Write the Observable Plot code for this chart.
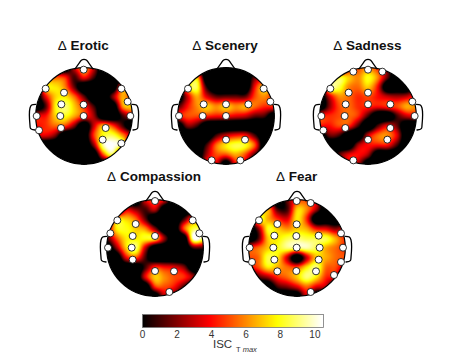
<!DOCTYPE html>
<html><head><meta charset="utf-8">
<script src="https://cdn.jsdelivr.net/npm/d3@7"></script>
<script src="https://cdn.jsdelivr.net/npm/@observablehq/plot@0.6"></script>
<style>
html,body{margin:0;padding:0;background:#fff}
#fig{position:relative;width:474px;height:355px;overflow:hidden;font-family:"Liberation Sans",Arial,sans-serif}
#fig>div{position:absolute}
.t{font-size:13.5px;font-weight:bold;line-height:16px;color:#111;text-align:center;transform:translateX(-50%);white-space:nowrap}
.t span{font-weight:normal}
.isc{font-size:11.5px;line-height:12px;color:#333;white-space:nowrap}
.isc sub{font-size:7.5px;line-height:0;vertical-align:-4px;margin-left:2px}
</style></head><body><div id="fig"></div>
<script>
// heat value grids: 11 rows (top to bottom), 11 columns (left to right) across the head
const eroticGrid=[
[0,0,0,0,3,6.5,3,0,0,0,0],
[0,4,5,4.5,1,4,1,0,0,0,0],
[0,6.5,7.5,6,1.5,0,0,0,0,5.5,4],
[0,3.5,7,7.5,5.5,1.5,0,0,2,6.5,4],
[0,1,7.5,9,7,4.5,1,0,0,6,7],
[4,4,7,8,6.5,4.5,2.5,0,0,1,3],
[4,4.5,5.5,5,2,0,3,6.5,4.5,1,0],
[3,3.5,2,0,0,0,4.5,8,8.5,6,2.5],
[0,0,0,0,0,0,2,9.5,10.4,8,0],
[0,0,0,0,0,0,0,5,8,0,0],
[0,0,0,0,0,0,0,0,0,0,0]];
const sceneryGrid=[
[0,0,0,0,0,0,0,0,0,0,0],
[0,4,6.5,0,0,0,0,0,1.5,2,0],
[0,6.5,8.5,.5,0,0,0,0,4,7,4],
[0,3,6.5,3.5,1.5,1.5,1.5,1.5,5,6,4],
[1,4,6,7,6,7,6,6.5,5.5,4.5,4.5],
[4,5,5,4.5,4,4,3.5,3,1.5,1,0],
[0,2,1,0,0,0,0,0,0,0,0],
[0,0,0,0,1,3,4,4,1,0,0],
[0,0,0,1,5.5,7.5,8.5,8,5,0,0],
[0,0,0,2.5,5,5,6.5,5,1,0,0],
[0,0,0,4,3.5,0,4,3,0,0,0]];
const sadnessGrid=[
[0,0,0,3.5,5,6,4.5,1.5,0,0,0],
[0,5,8,7,6,8,6,1.5,0,0,0],
[0,8.5,8.5,6,5.5,7,4,0,0,0,1.5],
[0,3,6,5.5,4.5,5,4,3,2.5,3,4.5],
[0,2,5,5.5,4.5,4.5,4,4.5,5,6.5,6],
[4.5,4.5,5,5.5,4.5,1,0,0,1,3,3.5],
[4,4,5,4.5,1,0,1,3.5,1.5,0,0],
[0,1.5,1,0,0,3,5.5,6,3.5,0,0],
[0,0,0,0,2.5,4,4,4,1,0,0],
[0,0,1,3.5,4,2.5,0,0,0,0,0],
[0,0,0,3.5,2.5,0,0,0,0,0,0]];
const compassionGrid=[
[0,0,0,0,3.5,5,3.5,0,0,0,0],
[0,0,3,2,1,3,0,0,0,0,0],
[0,6.5,7,5.5,1.5,0,0,0,1,5,2],
[2,7.5,8,7,6,2,0,0,5,8.5,8.5],
[1,5,7.5,7.5,8,7.5,2,0,0,10.4,9],
[0,2,7,9,3,0,0,0,0,1,1],
[0,0,3.5,5,1,0,0,0,0,0,0],
[0,0,0,0,1,4.5,4,3.5,2,0,0],
[0,0,0,0,3.5,7,6,5,4.5,2,0],
[0,0,0,0,0,4.5,5,4,1,0,0],
[0,0,0,0,0,0,3,1,0,0,0]];
const fearGrid=[
[0,0,2.5,0,1.5,4.5,5,3.5,0,0,0],
[0,4,6.5,1,1,7,6,2.5,0,0,0],
[0,7.5,6.5,4.5,3.5,7.5,4.5,0,0,0,0],
[0,2,8,7,6,7,6.5,4,3.5,2,3.5],
[0,1,7,7.5,8.5,9,8.5,8.5,8.5,6.5,4.5],
[4.5,5.5,7,8,9,9,9.5,8.5,6.5,5.5,4.5],
[5,5.5,8.5,7.5,3,0,3,7,6.5,5.5,5],
[3.5,5,7.5,6.5,5.5,5,7.5,9,5.5,5,2.5],
[0,1,2.5,4.5,5.5,7,9,7.5,4.5,3.5,0],
[0,0,0,1,2,3.5,5.5,3.5,2.5,0,0],
[0,0,0,0,0,0,3,0,0,0,0]];

// electrode positions, head radius = 145 units, y grows downward
const eroticX=[-1,-115,112,-60,131,-68,-1,-142,-71,-1,139,-135,-69,65,56,112];
const eroticY=[-139,-82,-82,-70,-43,-35,-34,0,0,0,0,43,36,36,71,82];
const sceneryX=[-114,113,-67,0,67,133,-141,-70,0,0,57,-43,43];
const sceneryY=[-82,-82,-35,-35,-35,-43,0,0,0,71,71,133,133];
const sadnessX=[-44,0,43,-113,-58,0,-67,0,67,133,-140,-70,140,-134,-68,67,0,58,-44];
const sadnessY=[-133,-139,-133,-82,-70,-70,-35,-35,-35,-43,0,0,0,43,36,36,71,71,133];
const compassionX=[0,-113,113,-58,-134,-67,0,133,-141,-70,-67,0,57,43];
const compassionY=[-141,-83,-83,-72,-44,-36,-36,-44,-1,-1,35,69,70,132];
const fearX=[-1,41,-114,-59,-1,-68,-2,65,132,-142,-71,-1,68,138,-135,-68,65,132,-59,-2,57,111,41];
const fearY=[-141,-135,-83,-72,-71,-37,-36,-37,-44,-1,-1,-1,-1,-1,42,35,35,42,70,69,70,81,132];

const noseX=[-27,-15,-7,0,7,15,27];
const noseY=[-141,-158,-168,-170,-168,-158,-141];
const earLeftX=[-145,-157,-162,-162,-160,-147];
const earLeftY=[-35,-33,-24,28,38,42];
const earRightX=[145,157,162,162,160,147];
const earRightY=[-35,-33,-24,28,38,42];

const colorStops=[0,3.9,7.8,10.4];
const colorRange=["#000000","#ff0000","#ffff00","#ffffff"];
const barTicks=[0,2,4,6,8,10];

const panels=[
 {name:"Erotic",grid:eroticGrid,xs:eroticX,ys:eroticY,cx:83.3,cy:115,base:50},
 {name:"Scenery",grid:sceneryGrid,xs:sceneryX,ys:sceneryY,cx:225,cy:115,base:50},
 {name:"Sadness",grid:sadnessGrid,xs:sadnessX,ys:sadnessY,cx:367.3,cy:115,base:50},
 {name:"Compassion",grid:compassionGrid,xs:compassionX,ys:compassionY,cx:154,cy:247,base:181},
 {name:"Fear",grid:fearGrid,xs:fearX,ys:fearY,cx:296.7,cy:247,base:181}
];
const SIZE=145, HALF=217.5, R=145, BELOW=-2.5;
const colorScale={type:"linear",domain:colorStops,range:colorRange,clamp:true};

function cr(p0,p1,p2,p3,t){return .5*((2*p1)+(-p0+p2)*t+(2*p0-5*p1+4*p2-p3)*t*t+(-p0+3*p1-3*p2+p3)*t*t*t);}
function surface(grid){
  const n=grid.length, at=(r,c)=>{const v=grid[Math.max(0,Math.min(n-1,r))][Math.max(0,Math.min(n-1,c))];return v===0?BELOW:v;};
  return (x,y)=>{
    if(x*x+y*y>R*R) return NaN;
    const u=(x+R)/(2*R)*(n-1), v=(y+R)/(2*R)*(n-1);
    const c=Math.min(n-2,Math.floor(u)), r=Math.min(n-2,Math.floor(v)), tu=u-c, tv=v-r;
    const col=[-1,0,1,2].map(dr=>cr(at(r+dr,c-1),at(r+dr,c),at(r+dr,c+1),at(r+dr,c+2),tu));
    return Math.max(0,cr(col[0],col[1],col[2],col[3],tv));
  };
}
const fig=document.getElementById("fig");
function place(el,left,top){const d=document.createElement("div");d.style.left=left+"px";d.style.top=top+"px";d.appendChild(el);fig.appendChild(d);return d;}
const idx=a=>a.map((_,i)=>i);
for(const p of panels){
  const line=(xs,ys)=>Plot.line(idx(xs),{x:i=>xs[i],y:i=>ys[i],curve:"catmull-rom",stroke:"#000",strokeWidth:1.3});
  const chart=Plot.plot({
    width:SIZE,height:SIZE,margin:0,
    x:{domain:[-HALF,HALF],axis:null},
    y:{domain:[HALF,-HALF],axis:null},
    color:colorScale,
    marks:[
      Plot.raster({fill:surface(p.grid),x1:-147,x2:147,y1:-147,y2:147,width:196,height:196}),
      Plot.dot([0],{x:()=>0,y:()=>0,r:R/3,fill:"none",stroke:"#000",strokeWidth:1.2}),
      line(noseX,noseY),line(earLeftX,earLeftY),line(earRightX,earRightY),
      Plot.dot(idx(p.xs),{x:i=>p.xs[i],y:i=>p.ys[i],r:3.5,fill:"#fff",stroke:"#000",strokeWidth:.8})
    ]
  });
  place(chart,p.cx-SIZE/2,p.cy-SIZE/2);
  const t=document.createElement("div");
  t.className="t";t.innerHTML="<span>Δ</span> "+p.name;
  const d=document.createElement("div");d.style.left=p.cx+"px";d.style.top=(p.base-12.5)+"px";d.appendChild(t);fig.appendChild(d);
}
// colour bar
const bar=Plot.plot({
  width:200,height:36,marginLeft:9,marginRight:10,marginTop:1,marginBottom:22,
  style:{fontSize:"10px",fontFamily:"'Liberation Sans',Arial,sans-serif",color:"#333"},
  x:{domain:[0,10.5],ticks:barTicks,tickSize:0,tickPadding:3,label:null,line:false},
  y:{domain:[0,1],axis:null},
  color:colorScale,
  marks:[
    Plot.raster({fill:(x,y)=>x,x1:0,x2:10.5,y1:0,y2:1,width:182,height:2}),
    Plot.frame({stroke:"#777",strokeWidth:.8})
  ]
});
place(bar,133,313);
const l=document.createElement("div");l.className="isc";l.innerHTML="ISC<sub> T <i>max</i></sub>";
const ld=document.createElement("div");ld.style.left="213px";ld.style.top="338px";ld.appendChild(l);fig.appendChild(ld);
</script></body></html>
